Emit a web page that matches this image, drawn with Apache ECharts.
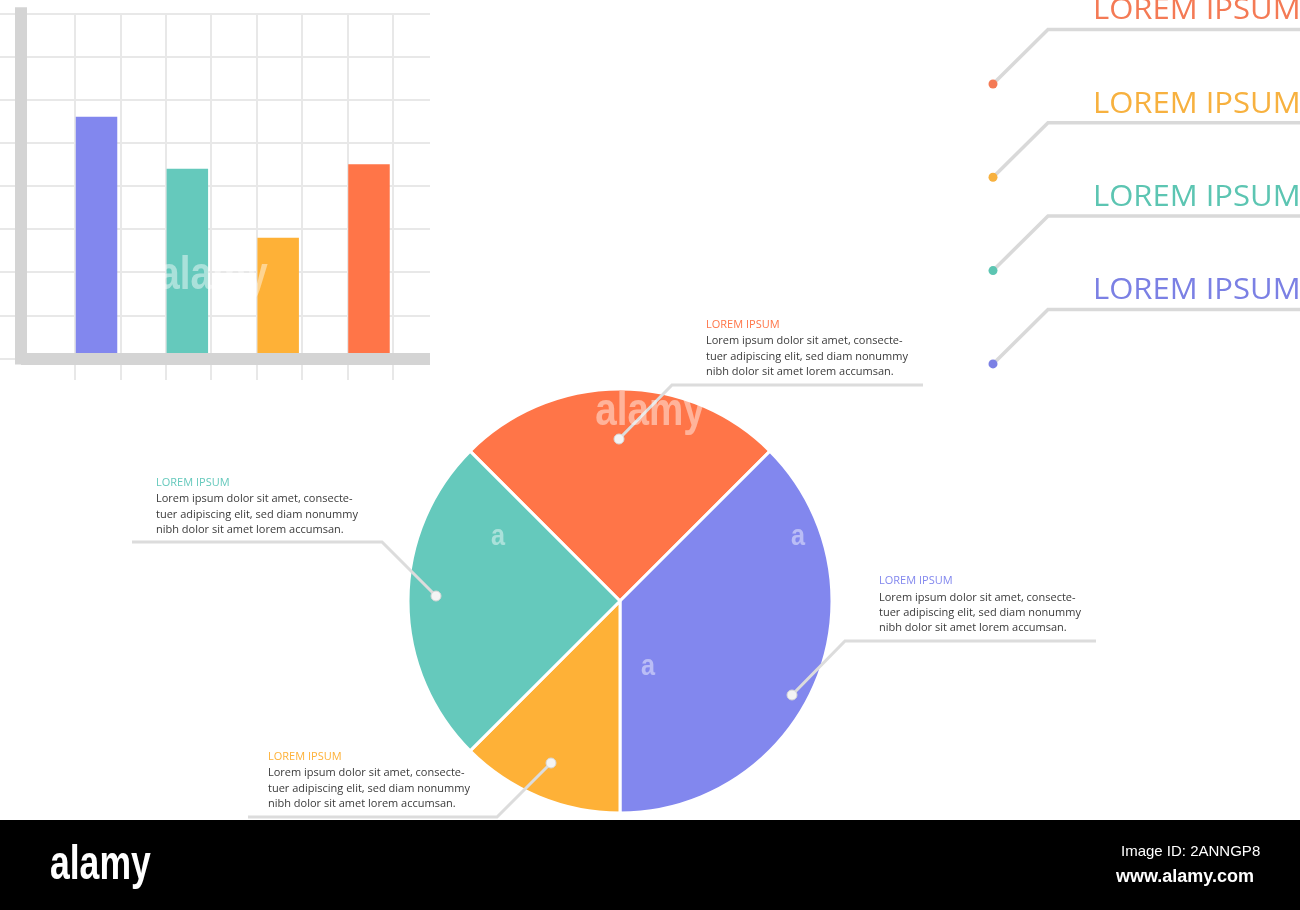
<!DOCTYPE html>
<html>
<head>
<meta charset="utf-8">
<title>Infographic bar and pie</title>
<script src="https://cdn.jsdelivr.net/npm/echarts@6.0.0/dist/echarts.min.js"></script>
<style>
  html, body { margin: 0; padding: 0; background: #fff; }
  #chart { width: 1300px; height: 910px; }
</style>
</head>
<body>
<div id="chart"></div>
<script>
// bar chart values (grid units, 0..8)
const barCategories = ['A', 'B', 'C', 'D'];
const barValues = [5.6, 4.4, 2.8, 4.5];
const barColors = ['#8287ee', '#65c9bc', '#feb137', '#ff7548'];

// pie slices, clockwise from upper left
const pieNames = ['Orange', 'Purple', 'Yellow', 'Teal'];
const pieValues = [2, 3, 1, 2];
const pieColors = ['#ff7548', '#8287ee', '#feb137', '#65c9bc'];

// right side labels
const legendLabels = ['LOREM IPSUM', 'LOREM IPSUM', 'LOREM IPSUM', 'LOREM IPSUM'];
const legendColors = ['#f47a55', '#f7b13f', '#5cc5b2', '#7b80e4'];

const noteTitle = 'LOREM IPSUM';
const noteBody = 'Lorem ipsum dolor sit amet, consecte-\ntuer adipiscing elit, sed diam nonummy\nnibh dolor sit amet lorem accumsan.';

const FONT = '"Open Sans", "Noto Sans", sans-serif';
const NARROW = '"Liberation Sans Narrow", "Liberation Sans", sans-serif';
const LINE_GREY = '#dcdcdc';

const chart = echarts.init(document.getElementById('chart'));

// pie notes: text block + leader line (dot inside the slice)
const notes = [
  { color: pieColors[0], tx: 706, ty: 325, pts: [[619, 439], [672, 385], [923, 385]] },
  { color: pieColors[3], tx: 156, ty: 483, pts: [[436, 596], [382, 542], [132, 542]] },
  { color: pieColors[1], tx: 879, ty: 581.5, pts: [[792, 695], [845, 641], [1096, 641]] },
  { color: pieColors[2], tx: 268, ty: 757, pts: [[551, 763], [497, 817], [248, 817]] }
];

let graphics = [];
notes.forEach(n => {
  graphics.push({
    type: 'polyline', z: 10, silent: true,
    shape: { points: n.pts },
    style: { stroke: LINE_GREY, lineWidth: 3, fill: null }
  });
  graphics.push({
    type: 'circle', z: 11, silent: true,
    shape: { cx: n.pts[0][0], cy: n.pts[0][1], r: 5 },
    style: { fill: '#f4f4f4', stroke: '#d6d6d6', lineWidth: 1 }
  });
  graphics.push({
    type: 'text', z: 10, silent: true, x: n.tx, y: n.ty, scaleX: 1.1,
    style: { text: noteTitle, fill: n.color, font: '10px ' + FONT, verticalAlign: 'middle' }
  });
  graphics.push({
    type: 'text', z: 10, silent: true, x: n.tx, y: n.ty + 8.5,
    style: { text: noteBody, fill: '#3a3a3a', font: '11px ' + FONT, lineHeight: 15.3, verticalAlign: 'top' }
  });
});

// right side list
legendLabels.forEach((label, i) => {
  const ly = 29.5 + i * 93.3;
  graphics.push({
    type: 'polyline', z: 10, silent: true,
    shape: { points: [[993, ly + 54.5], [1048, ly], [1300, ly]] },
    style: { stroke: '#d9d9d9', lineWidth: 3.5, fill: null }
  });
  graphics.push({
    type: 'circle', z: 11, silent: true,
    shape: { cx: 993, cy: ly + 54.5, r: 4.5 },
    style: { fill: legendColors[i] }
  });
  graphics.push({
    type: 'text', z: 10, silent: true, x: 1093, y: ly - 18.5, scaleX: 1.07,
    style: { text: label, fill: legendColors[i], font: '29px ' + FONT, verticalAlign: 'middle' }
  });
});

// faint watermarks
const wm = 'rgba(255,255,255,0.45)';
[[213, 276, 'alamy', 46], [650, 412, 'alamy', 46], [498, 537, 'a', 30], [798, 537, 'a', 30], [648, 667, 'a', 30]].forEach(w => {
  graphics.push({
    type: 'text', z: 20, silent: true, x: w[0], y: w[1], scaleX: 0.84,
    style: { text: w[2], fill: wm, font: 'bold ' + w[3] + 'px ' + NARROW, align: 'center', verticalAlign: 'middle' }
  });
});

// bottom banner
graphics.push({ type: 'rect', z: 50, silent: true, shape: { x: 0, y: 820, width: 1300, height: 90 }, style: { fill: '#000' } });
graphics.push({
  type: 'text', z: 51, silent: true, x: 50, y: 866, scaleX: 0.74,
  style: { text: 'alamy', fill: '#fff', font: 'bold 48px ' + NARROW, verticalAlign: 'middle' }
});
graphics.push({
  type: 'text', z: 51, silent: true, x: 1121, y: 852,
  style: { text: 'Image ID: 2ANNGP8', fill: '#fff', font: '15px ' + NARROW, verticalAlign: 'middle' }
});
graphics.push({
  type: 'text', z: 51, silent: true, x: 1116, y: 877,
  style: { text: 'www.alamy.com', fill: '#fff', font: 'bold 18px ' + NARROW, verticalAlign: 'middle' }
});

const option = {
  animation: false,
  backgroundColor: '#fff',
  grid: [
    { left: 21, top: 13.3, width: 409, height: 345.2 },    // frame + horizontal lines
    { left: 51.1, top: 13.3, width: 363.3, height: 345.2 }, // bars
    { left: 75, top: 13.3, width: 317.7, height: 366.7 }    // vertical lines
  ],
  xAxis: [
    {
      gridIndex: 0, type: 'value', min: 0, max: 1, z: 5,
      axisLine: { show: true, onZero: false, lineStyle: { color: '#d4d4d4', width: 12, cap: 'butt' } },
      splitLine: { show: false }, axisTick: { show: false }, axisLabel: { show: false }
    },
    { gridIndex: 1, type: 'category', data: barCategories, show: false },
    {
      gridIndex: 2, type: 'value', min: 0, max: 7, interval: 1,
      splitLine: { show: true, lineStyle: { color: '#e8e8e8', width: 2 } },
      axisLine: { show: false }, axisTick: { show: false }, axisLabel: { show: false }
    }
  ],
  yAxis: [
    {
      gridIndex: 0, type: 'value', min: 0, max: 8, interval: 1,
      splitLine: { show: true, lineStyle: { color: '#e8e8e8', width: 2 } },
      axisLine: { show: false },
      axisTick: { show: true, length: 21, lineStyle: { color: '#e8e8e8', width: 2 } },
      axisLabel: { show: false }
    },
    {
      gridIndex: 0, type: 'value', min: 0, max: 8, position: 'left', z: 5,
      axisLine: { show: true, onZero: false, lineStyle: { color: '#d4d4d4', width: 12, cap: 'square' } },
      splitLine: { show: false }, axisTick: { show: false }, axisLabel: { show: false }
    },
    { gridIndex: 1, type: 'value', min: 0, max: 8, show: false },
    { gridIndex: 2, type: 'value', min: 0, max: 1, show: false }
  ],
  series: [
    {
      type: 'bar', xAxisIndex: 1, yAxisIndex: 2, barWidth: 41.5, silent: true,
      data: barValues.map((v, i) => ({ value: v, itemStyle: { color: barColors[i] } }))
    },
    {
      type: 'pie', center: [620, 601], radius: 212, startAngle: 135, silent: true,
      label: { show: false }, labelLine: { show: false },
      itemStyle: { borderColor: '#fff', borderWidth: 3 },
      data: pieValues.map((v, i) => ({ name: pieNames[i], value: v, itemStyle: { color: pieColors[i] } }))
    }
  ],
  graphic: graphics
};

chart.setOption(option);
</script>
</body>
</html>
